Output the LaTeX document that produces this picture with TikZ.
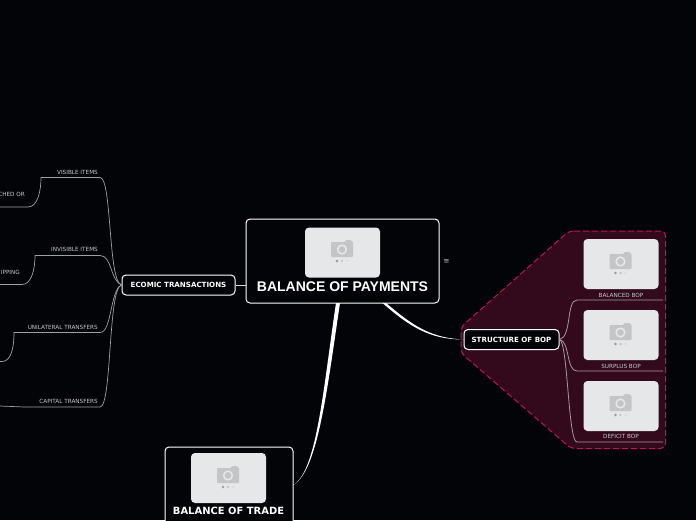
\documentclass[tikz,border=0pt]{standalone}
\usepackage{fontspec}
\setmainfont{DejaVu Sans}
\newfontfamily\titlefont{Liberation Sans}
\usetikzlibrary{calc}
\definecolor{bgc}{HTML}{030407}
\definecolor{imgc}{HTML}{E6E7E9}
\definecolor{camc}{HTML}{C4C5C7}
\definecolor{groupc}{HTML}{330A1C}
\definecolor{groupline}{HTML}{C2134F}
\definecolor{linec}{HTML}{A0A0A0}
\definecolor{linep}{HTML}{A898A0}
\definecolor{labc}{HTML}{C8C8C8}
\tikzset{
  x=1pt,y=-1pt,
  box/.style={draw=white,fill=bgc,rounded corners=4pt,line width=1pt,minimum width=#1,inner sep=0pt,text=white},
  sub/.style={box=#1,minimum height=20pt,font=\fontsize{7.1}{8}\selectfont\bfseries},
  leaf/.style={text=labc,font=\fontsize{5.7}{7}\selectfont,inner sep=0pt},
  plab/.style={text=labc,font=\fontsize{5.7}{7}\selectfont,inner sep=0pt},
  branch/.style={draw=linec,line width=0.7pt},
  pbranch/.style={draw=linep,line width=0.8pt},
  link/.style={draw=white!85!black,line width=1pt},
  taper/.style={fill=white,draw=none},
  photo/.style={fill=imgc,draw=none,rounded corners=4pt,minimum width=75pt,minimum height=50pt,inner sep=0pt},
  pics/camera/.style={code={
    \fill[camc,rounded corners=0.8pt] (-11,-7) -- (3,-7) -- (4,-9) -- (9,-9) -- (11,-7) -- (11,8) -- (-11,8) -- cycle;
    \fill[imgc] (0,0.5) circle (5.2);
    \fill[camc] (0,0.5) circle (3.4);
    \fill[gray!80] (-5,12) circle (1.4);
    \fill[camc] (0,12) circle (1.4);
    \fill[imgc!90!gray] (5,12) circle (1.4);
  }}
}
\begin{document}
\begin{tikzpicture}
\useasboundingbox (0,0) rectangle (696,520);
\clip (0,0) rectangle (696,520);
\fill[bgc] (0,0) rectangle (696,520);
% group
\path[fill=groupc,draw=groupline,line width=1pt,dash pattern=on 6pt off 3pt,rounded corners=5pt]
  (569,231) -- (665.5,231) -- (665.5,448.5) -- (571,448.5) -- (461,353) -- (461,327) -- cycle;
% nodes
\node[box=193pt,minimum height=84pt] (main) at (342.5,261) {};
\node[sub=113pt] (eco) at (178.5,285) {ECOMIC TRANSACTIONS};
\node[sub=95pt] (str) at (511.5,339.5) {STRUCTURE OF BOP};
\node[box=128pt,minimum height=90pt] (trade) at (229,492) {};
\node[photo] (img1) at (342.5,252.5) {};
\node[photo] (img2) at (228.5,478) {};
\node[photo] (img3) at (621,264) {};
\node[photo] (img4) at (621,335) {};
\node[photo] (img5) at (621,406) {};
\foreach \i/\cx/\cy in {img1/342/249,img2/228/475,img3/620.5/261,img4/620.5/332,img5/620.5/403}
  \pic at (\cx,\cy) {camera};
\node[text=white,inner sep=0pt,font=\titlefont\bfseries\fontsize{14}{16}\selectfont] (t1) at (342.5,286.5) {BALANCE OF PAYMENTS};
\node[text=white,inner sep=0pt,font=\bfseries\fontsize{9.95}{11}\selectfont] (t2) at (228.5,510.5) {BALANCE OF TRADE};
\node[text=labc,inner sep=0pt,font=\fontsize{7}{8}\selectfont] (menu) at (446.5,261.5) {≡};
% labels
\node[leaf,anchor=east] (vis) at (98,172.5) {VISIBLE ITEMS};
\node[leaf,anchor=east] (inv) at (98,249.5) {INVISIBLE ITEMS};
\node[leaf,anchor=east] (uni) at (98,327.5) {UNILATERAL TRANSFERS};
\node[leaf,anchor=east] (cap) at (98,401.5) {CAPITAL TRANSFERS};
\node[leaf,anchor=east] (a1) at (25,194.5) {CHED OR};
\node[leaf,anchor=east] (a2) at (20,272.5) {IPPING};
\node[plab] (p1) at (621,295) {BALANCED BOP};
\node[plab] (p2) at (621,366) {SURPLUS BOP};
\node[plab] (p3) at (621,436.5) {DEFICIT BOP};
% free ends
\coordinate (ecoL) at (eco.west);
\coordinate (strR) at (str.east);
\coordinate (v1) at (41,177.5); \coordinate (v2) at (100,177.5);
\coordinate (i1) at (35,255.5); \coordinate (i2) at (100,255.5);
\coordinate (u1) at (14,332.5); \coordinate (u2) at (100,332.5);
\coordinate (c1) at (24,407); \coordinate (c2) at (100,407);
\coordinate (e1) at (0,207); \coordinate (e2) at (0,284.5); \coordinate (e3) at (0,361.5); \coordinate (e4) at (0,406);
\coordinate (s1) at (577,300); \coordinate (s2) at (577,371); \coordinate (s3) at (577,442);
\coordinate (s1e) at (663,300); \coordinate (s2e) at (663,371); \coordinate (s3e) at (663,442);
% connectors
\draw[link] (eco.east) -- (main.west |- eco.east);
\draw[branch] (ecoL) .. controls (108,282) and (112,177.5) .. (v2) -- (v1) .. controls (41,190) and (38,207) .. (28,207) -- (e1);
\draw[branch] (ecoL) .. controls (110,280) and (112,255.5) .. (i2) -- (i1) .. controls (35,268) and (32,284.5) .. (22,284.5) -- (e2);
\draw[branch] (ecoL) .. controls (110,290) and (112,332.5) .. (u2) -- (u1) .. controls (14,345) and (12,361.5) .. (2,361.5) -- (e3);
\draw[branch] (ecoL) .. controls (108,287) and (112,407) .. (c2) -- (c1) -- (e4);
\draw[pbranch] (strR) .. controls (572,337) and (566,300) .. (s1) -- (s1e);
\draw[pbranch] (strR) .. controls (570,341) and (566,371) .. (s2) -- (s2e);
\draw[pbranch] (strR) .. controls (568,342) and (568,442) .. (s3) -- (s3e);
% tapered links
\fill[taper] (336,303) .. controls (323,390) and (317,470) .. (trade.east |- 0,485) .. controls (318,470) and (327,390) .. (340,303) -- cycle;
\fill[taper] (382.5,303) .. controls (410,327) and (430,339.5) .. (str.west) .. controls (430,338) and (412,325) .. (386,303) -- cycle;
\end{tikzpicture}
\end{document}
